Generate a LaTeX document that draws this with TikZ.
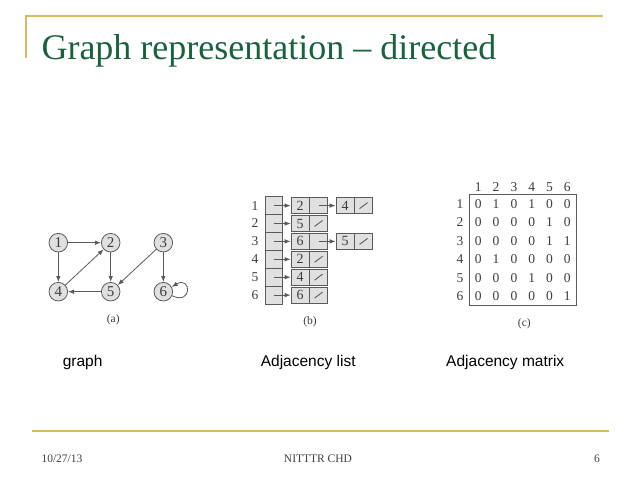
\documentclass[tikz,border=0pt]{standalone}
\usepackage{fontspec}
\setmainfont{Liberation Serif}
\setsansfont{Liberation Sans}
\usetikzlibrary{matrix, positioning, calc, arrows.meta, fit}
\definecolor{titlegreen}{RGB}{24,98,62}
\definecolor{rulegold}{RGB}{222,184,96}
\definecolor{figline}{RGB}{90,90,90}
\definecolor{figtext}{RGB}{60,60,60}
\definecolor{figfill}{RGB}{224,224,224}
\tikzset{
    every node/.style={font=\fontsize{13.5}{13.5}\selectfont, text=figtext},
    vert/.style={circle, draw=figline, fill=figfill, line width=0.8pt, minimum size=18.6pt, inner sep=0pt, font=\fontsize{15}{15}\selectfont},
    cell/.style={draw=figline, fill=figfill, line width=0.7pt, minimum height=16.3pt, inner sep=0pt, font=\fontsize{14}{14}\selectfont},
    arrow/.style={-{Latex[length=6pt, width=4.5pt]}, figline, line width=0.8pt},
    nil/.style={figline, line width=0.9pt},
    caption/.style={font=\sffamily\fontsize{15.5}{15.5}\selectfont, text=black, anchor=base west},
    footer/.style={font=\fontsize{11.5}{11.5}\selectfont, text=black!75, anchor=base},
}

\begin{document}
\begin{tikzpicture}[x=1pt, y=-1pt]
  \useasboundingbox (0,0) rectangle (638,479);
  % Title and rules
  \draw[rulegold, line width=1.3pt] (26,58) -- (26,16) -- (603,16);
  \node[anchor=base west, text=titlegreen, font=\fontsize{36}{36}\selectfont] (title) at (38,59.5) {Graph representation – directed};
  \draw[rulegold, line width=1.3pt] (32,431) -- (609,431);

  % (a) the graph
  \node[vert] (n1) at (58.3,242.7) {1};
  \node[vert] (n2) at (110.7,242.7) {2};
  \node[vert] (n3) at (163.3,242.7) {3};
  \node[vert] (n4) at (58.3,291.7) {4};
  \node[vert] (n5) at (110.7,291.7) {5};
  \node[vert] (n6) at (163.3,291.7) {6};
    \draw[arrow] (n1) -- (n2);
    \draw[arrow] (n1) -- (n4);
    \draw[arrow] (n4) -- (n2);
    \draw[arrow] (n2) -- (n5);
    \draw[arrow] (n5) -- (n4);
    \draw[arrow] (n3) -- (n5);
    \draw[arrow] (n3) -- (n6);
    \draw[arrow] (n6) to[out=-25, in=30, looseness=6.5] (n6);
  \node[font=\fontsize{11.5}{11.5}\selectfont] (capa) at (113.3,320) {(a)};

  % (b) the adjacency list
  \node (i1) at (255,205.6) {1};
  \node (i2) at (255,223.5) {2};
  \node (i3) at (255,241.4) {3};
  \node (i4) at (255,259.3) {4};
  \node (i5) at (255,277.2) {5};
  \node (i6) at (255,295.1) {6};
  \node[cell, minimum width=17.3pt, minimum height=17.9pt] (a1) at (273.7,205.6) {};
  \node[cell, minimum width=17.3pt, minimum height=17.9pt] (a2) at (273.7,223.5) {};
  \node[cell, minimum width=17.3pt, minimum height=17.9pt] (a3) at (273.7,241.4) {};
  \node[cell, minimum width=17.3pt, minimum height=17.9pt] (a4) at (273.7,259.3) {};
  \node[cell, minimum width=17.3pt, minimum height=17.9pt] (a5) at (273.7,277.2) {};
  \node[cell, minimum width=17.3pt, minimum height=17.9pt] (a6) at (273.7,295.1) {};
  \node[cell, minimum width=18pt] (k1) at (300,205.6) {2};
  \node[cell, minimum width=17.7pt, right=0pt of k1] (p1) {};
  \node[cell, minimum width=18pt] (k2) at (300,223.5) {5};
  \node[cell, minimum width=17.7pt, right=0pt of k2] (p2) {};
  \node[cell, minimum width=18pt] (k3) at (300,241.4) {6};
  \node[cell, minimum width=17.7pt, right=0pt of k3] (p3) {};
  \node[cell, minimum width=18pt] (k4) at (300,259.3) {2};
  \node[cell, minimum width=17.7pt, right=0pt of k4] (p4) {};
  \node[cell, minimum width=18pt] (k5) at (300,277.2) {4};
  \node[cell, minimum width=17.7pt, right=0pt of k5] (p5) {};
  \node[cell, minimum width=18pt] (k6) at (300,295.1) {6};
  \node[cell, minimum width=17.7pt, right=0pt of k6] (p6) {};
  \node[cell, minimum width=18pt] (k1b) at (345,205.6) {4};
  \node[cell, minimum width=17.7pt, right=0pt of k1b] (p1b) {};
  \node[cell, minimum width=18pt] (k3b) at (345,241.4) {5};
  \node[cell, minimum width=17.7pt, right=0pt of k3b] (p3b) {};
    \draw[arrow] (a1.center) -- (k1);
    \draw[arrow] (a2.center) -- (k2);
    \draw[arrow] (a3.center) -- (k3);
    \draw[arrow] (a4.center) -- (k4);
    \draw[arrow] (a5.center) -- (k5);
    \draw[arrow] (a6.center) -- (k6);
    \draw[arrow] (p1.center) -- (k1b);
    \draw[arrow] (p3.center) -- (k3b);
  % end-of-list marks
  \draw[nil] ($(p1b)+(-4,3)$) -- ($(p1b)+(4,-3)$);
  \draw[nil] ($(p2)+(-4,3)$) -- ($(p2)+(4,-3)$);
  \draw[nil] ($(p3b)+(-4,3)$) -- ($(p3b)+(4,-3)$);
  \draw[nil] ($(p4)+(-4,3)$) -- ($(p4)+(4,-3)$);
  \draw[nil] ($(p5)+(-4,3)$) -- ($(p5)+(4,-3)$);
  \draw[nil] ($(p6)+(-4,3)$) -- ($(p6)+(4,-3)$);
  \node[font=\fontsize{11.5}{11.5}\selectfont] (capb) at (310,322) {(b)};

  % (c) the adjacency matrix
  \matrix (m) [matrix of nodes, nodes={minimum width=17.8pt, minimum height=18.4pt, inner sep=0pt}, column sep=0pt, row sep=0pt] at (522.8,250) {
    0 & 1 & 0 & 1 & 0 & 0 \\
    0 & 0 & 0 & 0 & 1 & 0 \\
    0 & 0 & 0 & 0 & 1 & 1 \\
    0 & 1 & 0 & 0 & 0 & 0 \\
    0 & 0 & 0 & 1 & 0 & 0 \\
    0 & 0 & 0 & 0 & 0 & 1 \\
  };
  \node[draw=figline, line width=0.7pt, inner sep=0pt, fit=(m-1-1)(m-6-6)] (mbox) {};
  \node (r1) at ($(m-1-1)+(-18.3,0)$) {1};
  \node (r2) at ($(m-2-1)+(-18.3,0)$) {2};
  \node (r3) at ($(m-3-1)+(-18.3,0)$) {3};
  \node (r4) at ($(m-4-1)+(-18.3,0)$) {4};
  \node (r5) at ($(m-5-1)+(-18.3,0)$) {5};
  \node (r6) at ($(m-6-1)+(-18.3,0)$) {6};
  \node (c1) at ($(m-1-1)+(0,-16.7)$) {1};
  \node (c2) at ($(m-1-2)+(0,-16.7)$) {2};
  \node (c3) at ($(m-1-3)+(0,-16.7)$) {3};
  \node (c4) at ($(m-1-4)+(0,-16.7)$) {4};
  \node (c5) at ($(m-1-5)+(0,-16.7)$) {5};
  \node (c6) at ($(m-1-6)+(0,-16.7)$) {6};
  \node[font=\fontsize{11.5}{11.5}\selectfont] (capc) at (524.3,324) {(c)};

  % captions and footer
  \node[caption] (lgraph) at (59.3,366) {graph};
  \node[caption] (llist) at (257.3,366) {Adjacency list};
  \node[caption] (lmatrix) at (442.7,366) {Adjacency matrix};
  \node[footer, anchor=base west] (date) at (38,462) {10/27/13};
  \node[footer] (org) at (318,462) {NITTTR CHD};
  \node[footer] (page) at (597,462) {6};
\end{tikzpicture}
\end{document}
